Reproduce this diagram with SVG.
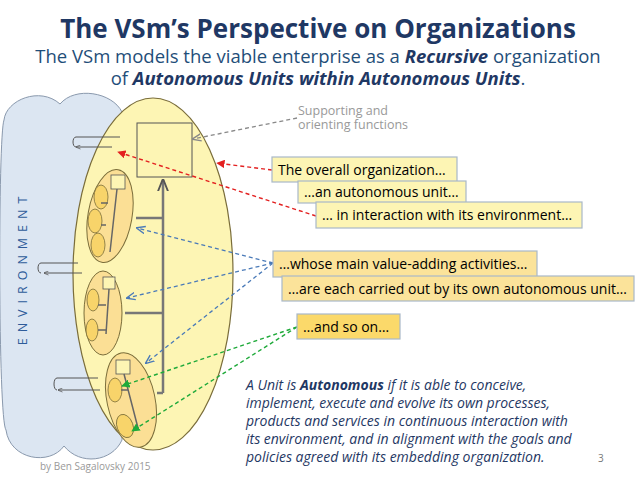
<svg xmlns="http://www.w3.org/2000/svg" width="638" height="478" viewBox="0 0 638 478">
<defs>
<style>
text{font-family:"Open Sans","Liberation Sans",sans-serif}
.lbl{stroke:#a9b8c8;stroke-width:1.2}
.lt{font-size:14px;fill:#000}
.sub{fill:#fbdf95;stroke:#7a6d3a;stroke-width:1}
.cell{fill:#f8d46a;stroke:#7a6d3a;stroke-width:0.8}
.ln{stroke:#777;stroke-width:2.5;fill:none}
.env{stroke:#555;stroke-width:1;fill:none}
.it{font-size:14px;font-style:italic;fill:#1f3864}
</style>
<marker id="ag" viewBox="0 0 10 10" refX="9" refY="5" markerWidth="7" markerHeight="7" orient="auto"><path d="M0,1L10,5L0,9" fill="none" stroke="#888" stroke-width="1.5"/></marker>
<marker id="ar" viewBox="0 0 10 10" refX="9" refY="5" markerWidth="6" markerHeight="6" orient="auto"><path d="M0,0L10,5L0,10z" fill="#e32020"/></marker>
<marker id="ab" viewBox="0 0 10 10" refX="9" refY="5" markerWidth="7" markerHeight="7" orient="auto"><path d="M0,1L10,5L0,9" fill="none" stroke="#4a7ab8" stroke-width="1.5"/></marker>
<marker id="agr" viewBox="0 0 10 10" refX="9" refY="5" markerWidth="6" markerHeight="6" orient="auto"><path d="M0,0L10,5L0,10z" fill="#1faa3a"/></marker>
<marker id="ah" viewBox="0 0 10 10" refX="9" refY="5" markerWidth="5" markerHeight="5" orient="auto"><path d="M0,1L10,5L0,9" fill="none" stroke="#555" stroke-width="1.5"/></marker>
</defs>
<rect width="638" height="478" fill="#fff"/>
<text x="318" y="38" text-anchor="middle" font-size="26" font-weight="bold" fill="#1f3864">The VSm’s Perspective on Organizations</text>
<text x="318" y="63" text-anchor="middle" font-size="18.5" fill="#1f4e79">The VSm models the viable enterprise as a <tspan font-weight="bold" font-style="italic" fill="#1f3864">Recursive</tspan> organization</text>
<text x="318" y="85" text-anchor="middle" font-size="18.5" fill="#1f4e79">of <tspan font-weight="bold" font-style="italic" fill="#1f3864">Autonomous Units within Autonomous Units</tspan>.</text>
<g id="environment">
<path d="M4,120 C6,100 40,86 60,104 C75,86 112,92 122,112 L122,440 C112,462 80,466 64,446 C50,466 10,460 6,430 C-2,420 -2,135 4,120Z" fill="#dce6f2" stroke="#8a99ad" stroke-width="1"/>
<text transform="translate(27,268) rotate(-90)" font-size="12.5" fill="#2e5c9a" letter-spacing="6" text-anchor="middle">ENVIRONMENT</text>
</g>
<g id="organization">
<ellipse cx="153" cy="274" rx="80" ry="176" fill="#fdf5b4" stroke="#7a6d3a" stroke-width="1.2"/>
<rect x="137" y="123" width="55" height="54" fill="#fdf5b4" stroke="#555" stroke-width="1"/>
</g>
<g id="unit1">
<ellipse cx="110" cy="216" rx="22" ry="47" class="sub" transform="rotate(10 110 216)"/>
<rect x="111" y="175" width="14" height="14" fill="#fdf5b4" stroke="#555" stroke-width="0.8"/>
<ellipse cx="101" cy="197" rx="7" ry="12" class="cell"/>
<ellipse cx="95" cy="221" rx="7" ry="12" class="cell"/>
<ellipse cx="98" cy="245" rx="7" ry="12" class="cell"/>
<path d="M117,189 L110,252 M108,203 L101,203 M106,225 L101,225" stroke="#666" stroke-width="1.5"/>
</g>
<g id="unit2">
<ellipse cx="103" cy="313" rx="19" ry="42" class="sub"/>
<rect x="103" y="277" width="12" height="12" fill="#fdf5b4" stroke="#555" stroke-width="0.8"/>
<ellipse cx="93" cy="300" rx="6" ry="11" class="cell"/>
<ellipse cx="92" cy="330" rx="6" ry="11" class="cell"/>
<path d="M109,289 L106,334 M106,305 L98,305 M106,330 L98,330" stroke="#666" stroke-width="1.5"/>
</g>
<g id="unit3">
<ellipse cx="131" cy="400" rx="24" ry="48" class="sub" transform="rotate(-12 131 400)"/>
<rect x="116" y="360" width="14" height="14" fill="#fdf5b4" stroke="#555" stroke-width="0.8"/>
<ellipse cx="115" cy="390" rx="7" ry="12" class="cell"/>
<ellipse cx="125" cy="426" rx="8" ry="12" class="cell" transform="rotate(-20 125 426)"/>
<path d="M124,374 L138,428 M128,390 L121,390" stroke="#666" stroke-width="1.5"/>
</g>
<g id="connectors">
<path d="M163,393 L163,180" class="ln" marker-end="url(#ah)"/>
<path d="M163,218 L136,218 M163,313 L125,313 M163,393 L157,393" class="ln"/>
<path d="M120,137 L76,137 C72,137 72,147 76,147" class="env"/>
<path d="M112,147 L76,147" class="env" marker-end="url(#ah)"/>
<path d="M78,263 L41,263 C37,263 37,273 41,273" class="env"/>
<path d="M82,273 L44,273" class="env" marker-end="url(#ah)"/>
<path d="M98,378 L57,378 C53,378 53,390 57,390" class="env"/>
<path d="M100,390 L58,390" class="env" marker-end="url(#ah)"/>
<path d="M297,118 L193,139" stroke="#888" stroke-width="1.3" stroke-dasharray="4,3" fill="none" marker-end="url(#ag)"/>
<path d="M272,170 L217,163" stroke="#e32020" stroke-width="1.4" stroke-dasharray="4,3" fill="none" marker-end="url(#ar)"/>
<path d="M316,216 L118,152" stroke="#e32020" stroke-width="1.4" stroke-dasharray="4,3" fill="none" marker-end="url(#ar)"/>
<path d="M273,263 L137,228" stroke="#4a7ab8" stroke-width="1.3" stroke-dasharray="4,3" fill="none" marker-end="url(#ab)"/>
<path d="M273,263 L127,298" stroke="#4a7ab8" stroke-width="1.3" stroke-dasharray="4,3" fill="none" marker-end="url(#ab)"/>
<path d="M273,263 L146,363" stroke="#4a7ab8" stroke-width="1.3" stroke-dasharray="4,3" fill="none" marker-end="url(#ab)"/>
<path d="M297,327 L122,386" stroke="#1faa3a" stroke-width="1.4" stroke-dasharray="4,3" fill="none" marker-end="url(#agr)"/>
<path d="M297,327 L132,431" stroke="#1faa3a" stroke-width="1.4" stroke-dasharray="4,3" fill="none" marker-end="url(#agr)"/>
</g>
<g id="supporting">
<text x="298" y="115" font-size="12.5" fill="#999">Supporting and</text>
<text x="298" y="129" font-size="12.5" fill="#999">orienting functions</text>
</g>
<g id="box1"><rect x="272" y="157" width="185" height="25" fill="#fdf5b4" class="lbl"/><text x="278" y="175" class="lt">The overall organization…</text></g>
<g id="box2"><rect x="298" y="181" width="168" height="22" fill="#fdf5b4" class="lbl"/><text x="304" y="197" class="lt">…an autonomous unit…</text></g>
<g id="box3"><rect x="316" y="202" width="266" height="26" fill="#fdf5b4" class="lbl"/><text x="322" y="220" class="lt">… in interaction with its environment…</text></g>
<g id="box4"><rect x="273" y="251" width="264" height="26" fill="#fbe39a" class="lbl"/><text x="279" y="269" class="lt">…whose main value-adding activities…</text></g>
<g id="box5"><rect x="282" y="276" width="352" height="25" fill="#fbe39a" class="lbl"/><text x="288" y="294" class="lt">…are each carried out by its own autonomous unit…</text></g>
<g id="box6"><rect x="297" y="314" width="103" height="25" fill="#fbd96a" class="lbl"/><text x="303" y="332" class="lt">…and so on…</text></g>
<g id="definition">
<text x="246" y="390" class="it">A Unit is <tspan font-weight="bold">Autonomous</tspan> if it is able to conceive,</text>
<text x="246" y="408" class="it">implement, execute and evolve its own processes,</text>
<text x="246" y="426" class="it">products and services in continuous interaction with</text>
<text x="246" y="444" class="it">its environment, and in alignment with the goals and</text>
<text x="246" y="462" class="it">policies agreed with its embedding organization.</text>
</g>
<text x="40" y="470" font-size="10" fill="#999">by Ben Sagalovsky 2015</text>
<text x="598" y="462" font-size="10" fill="#777">3</text>
</svg>
